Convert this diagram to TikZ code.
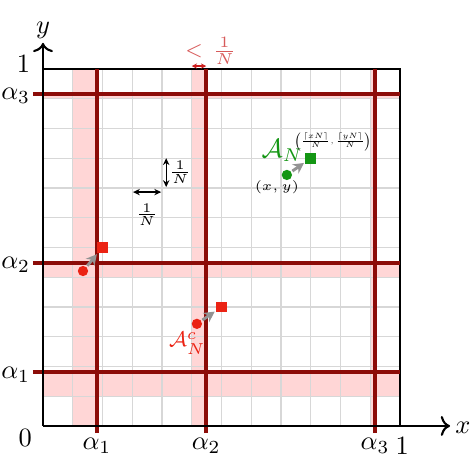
\documentclass[tikz,border=0pt]{standalone}
\usepackage{graphicx}
\usetikzlibrary{arrows.meta}
\definecolor{pinkband}{RGB}{255,214,214}
\definecolor{alphared}{RGB}{140,12,8}
\definecolor{ptred}{RGB}{235,35,20}
\definecolor{ptgreen}{RGB}{20,150,20}
\definecolor{notered}{RGB}{215,90,90}
\definecolor{arrowred}{RGB}{205,30,30}
\definecolor{gridgray}{RGB}{215,215,215}
\begin{document}
\begin{tikzpicture}[x=4.75cm,y=4.75cm,
  band/.style={fill=pinkband, draw=none},
  gridline/.style={draw=gridgray, line width=0.5pt},
  alphaline/.style={draw=alphared, line width=1.5pt},
  axisline/.style={line width=0.8pt, -{To[length=3.5pt,width=7.5pt]}},
  boxline/.style={line width=0.8pt},
  rdot/.style={circle, fill=ptred, inner sep=0pt, minimum size=3.9pt},
  rsq/.style={rectangle, fill=ptred, inner sep=0pt, minimum size=4.1pt},
  gdot/.style={circle, fill=ptgreen, inner sep=0pt, minimum size=3.9pt},
  gsq/.style={rectangle, fill=ptgreen, inner sep=0pt, minimum size=4.1pt},
  move/.style={draw=gray!85, line width=1.1pt, -{Stealth[length=4pt,width=4.2pt]}, shorten <=0.4pt, shorten >=0.4pt},
  meas/.style={line width=0.5pt, {Stealth[length=2.6pt,width=2.4pt]}-{Stealth[length=2.6pt,width=2.4pt]}},
  smallmeas/.style={draw=arrowred, line width=0.5pt, {Stealth[length=2pt,width=2pt]}-{Stealth[length=2pt,width=2pt]}},
  lab/.style={inner sep=0pt}
]
\useasboundingbox (-0.1204,-0.1345) rectangle (1.207,1.193);
\def\aA{0.151}\def\aB{0.457}\def\aC{0.930}
% pink strips
\fill[band] (1/12,0) rectangle (\aA,1);
\fill[band] (5/12,0) rectangle (\aB,1);
\fill[band] (11/12,0) rectangle (\aC,1);
\fill[band] (0,1/12) rectangle (1,\aA);
\fill[band] (0,5/12) rectangle (1,\aB);
\fill[band] (0,11/12) rectangle (1,\aC);
% grid
\foreach \i in {1,...,11}{
  \draw[gridline] (\i/12,0) -- (\i/12,1);
  \draw[gridline] (0,\i/12) -- (1,\i/12);
}
% box
\coordinate (O) at (0,0);
\coordinate (TL) at (0,1);
\coordinate (TR) at (1,1);
\coordinate (BR) at (1,0);
\draw[boxline] (TL) -- (TR) -- (BR);
% alpha lines
\foreach \a in {\aA,\aB,\aC}{
  \draw[alphaline] (\a,-0.02) -- (\a,1);
  \draw[alphaline] (-0.028,\a) -- (1,\a);
}
% axes
\coordinate (xend) at (1.14,0);
\coordinate (yend) at (0,1.073);
\draw[axisline] (O) -- (xend);
\draw[axisline] (O) -- (yend);
\node[anchor=base] (xl) at (1.176,-0.02) {$x$};
\node[anchor=base] (yl) at (0,1.10) {$y$};
% axis labels
\node[anchor=north east] (zero) at (-0.005,0.015) {$0$};
\node[anchor=north] (xa1) at (\aA,-0.007) {$\alpha_1$};
\node[anchor=north] (xa2) at (\aB,-0.007) {$\alpha_2$};
\node[anchor=north] (xa3) at (\aC,-0.007) {$\alpha_3$};
\node[anchor=north] (xone) at (1.006,-0.007) {$1$};
\node[anchor=base east] (ya1) at (-0.01,\aA-0.017) {$\alpha_1$};
\node[anchor=base east] (ya2) at (-0.01,\aB-0.017) {$\alpha_2$};
\node[anchor=base east] (ya3) at (-0.01,\aC-0.017) {$\alpha_3$};
\node[anchor=base east] (yone) at (-0.01,0.989) {$1$};
% 1/N measures
\coordinate (h1) at (0.252,0.655);
\coordinate (h2) at (0.331,0.655);
\draw[meas] (h1) -- (h2);
\node[lab] (hl) at (0.291,0.591) {\scriptsize$\frac{1}{N}$};
\coordinate (v1) at (0.345,0.669);
\coordinate (v2) at (0.345,0.750);
\draw[meas] (v1) -- (v2);
\node[lab] (vl) at (0.384,0.711) {\scriptsize$\frac{1}{N}$};
% top small measure
\coordinate (t1) at (5/12,1.008);
\coordinate (t2) at (\aB,1.008);
\draw[smallmeas] (t1) -- (t2);
\node[lab, text=notered] (tl) at (0.470,1.050) {\footnotesize$<\,\frac{1}{N}$};
% red points
\node[rdot] (c1) at (0.112,0.434) {};
\node[rsq] (s1) at (2/12,6/12) {};
\draw[move] (c1) -- (s1);
\node[rdot] (c2) at (0.431,0.286) {};
\node[rsq] (s2) at (6/12,4/12) {};
\draw[move] (c2) -- (s2);
\node[lab, text=ptred] (acl) at (0.404,0.232) {\footnotesize$\mathcal{A}^{c}_{N}$};
% green point
\node[gdot] (c3) at (0.683,0.703) {};
\node[gsq] (s3) at (9/12,9/12) {};
\draw[move] (c3) -- (s3);
\node[lab, text=ptgreen] (anl) at (0.670,0.772) {$\mathcal{A}_N$};
\node[lab] (cxy) at (0.655,0.669) {\tiny$(x,y)$};
\node[lab] (cq) at (0.812,0.796) {\scalebox{0.58}{\tiny$\left(\frac{\lceil xN\rceil}{N},\frac{\lceil yN\rceil}{N}\right)$}};
\end{tikzpicture}
\end{document}
